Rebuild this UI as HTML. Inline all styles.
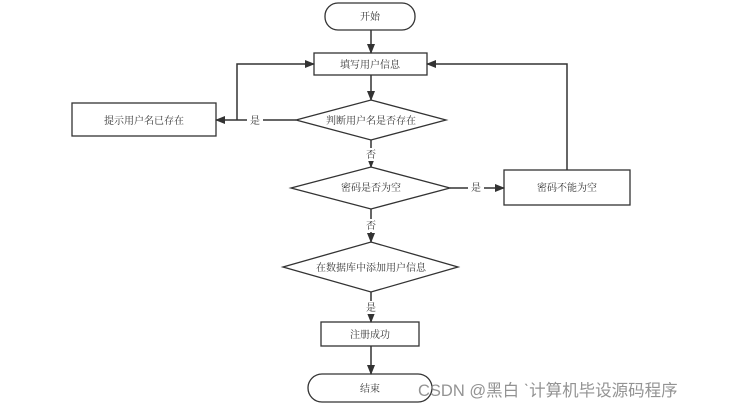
<!DOCTYPE html>
<html><head><meta charset="utf-8"><style>
html,body{margin:0;padding:0;background:#fff;width:743px;height:410px;overflow:hidden}
svg text{font-family:"Liberation Serif","Noto Serif CJK SC","Noto Sans CJK SC",serif;font-size:10px;fill:#333}
</style></head><body>
<svg width="743" height="410" viewBox="0 0 743 410" xmlns="http://www.w3.org/2000/svg">
<defs><marker id="a" markerWidth="10" markerHeight="8" refX="9" refY="4" orient="auto" markerUnits="userSpaceOnUse"><path d="M0,0L10,4L0,8z" fill="#333"/></marker></defs>
<g fill="#fff" stroke="#333" stroke-width="1.3">
<rect x="325" y="3" width="90" height="27" rx="13"/>
<rect x="314" y="53" width="113" height="22"/>
<polygon points="296,120 371,100 446,120 371,140"/>
<rect x="72" y="103" width="144" height="33"/>
<polygon points="291,188 371,167 450,188 371,209"/>
<rect x="504" y="170" width="126" height="35"/>
<polygon points="283,267 371,242 458,267 371,292"/>
<rect x="321" y="322" width="98" height="24"/>
<rect x="308" y="374" width="124" height="28" rx="14"/>
</g>
<g stroke="#333" stroke-width="1.5" fill="none" marker-end="url(#a)">
<line x1="371" y1="30" x2="371" y2="53"/>
<line x1="371" y1="75" x2="371" y2="100"/>
<line x1="296" y1="120" x2="216" y2="120"/>
<polyline points="237,120 237,64 314,64"/>
<line x1="371" y1="140" x2="371" y2="167"/>
<line x1="450" y1="188" x2="504" y2="188"/>
<polyline points="567,170 567,64 427,64"/>
<line x1="371" y1="209" x2="371" y2="242"/>
<line x1="371" y1="292" x2="371" y2="322"/>
<line x1="371" y1="346" x2="371" y2="374"/>
</g>
<g text-anchor="middle">
<text x="370" y="20">开始</text>
<text x="370" y="68">填写用户信息</text>
<text x="371" y="124">判断用户名是否存在</text>
<text x="144" y="124">提示用户名已存在</text>
<rect x="247" y="113" width="16" height="13" fill="#fff"/><text x="255" y="124">是</text>
<rect x="363" y="148" width="16" height="13" fill="#fff"/><text x="371" y="158">否</text>
<text x="371" y="191">密码是否为空</text>
<rect x="468" y="181" width="16" height="13" fill="#fff"/><text x="476" y="191">是</text>
<text x="567" y="191">密码不能为空</text>
<rect x="363" y="219" width="16" height="13" fill="#fff"/><text x="371" y="229">否</text>
<text x="371" y="271">在数据库中添加用户信息</text>
<rect x="363" y="301" width="16" height="13" fill="#fff"/><text x="371" y="311">是</text>
<text x="370" y="338">注册成功</text>
<text x="370" y="392">结束</text>
</g>
<text x="418" y="396" style="font-family:'Liberation Sans','Noto Sans CJK SC',sans-serif;font-size:16.5px;fill:#888;opacity:.9">CSDN @黑白 ˋ计算机毕设源码程序</text>
</svg>
</body></html>
